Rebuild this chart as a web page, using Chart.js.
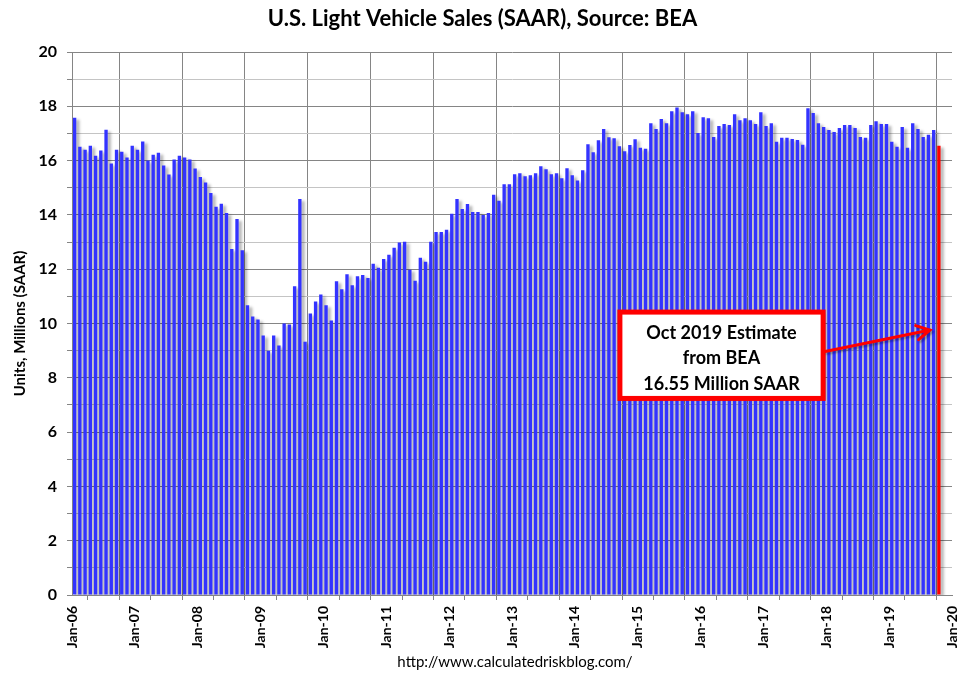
<!DOCTYPE html>
<html>
<head>
<meta charset="utf-8">
<title>U.S. Light Vehicle Sales (SAAR)</title>
<script src="https://cdn.jsdelivr.net/npm/chart.js@4.4.1/dist/chart.umd.min.js"></script>
<style>
  body { margin: 0; background: #fff; }
  #wrap { width: 969px; height: 680px; }
</style>
</head>
<body>
<div id="wrap"><canvas id="myChart" width="969" height="680"></canvas></div>
<script>
// Light vehicle sales, millions SAAR, monthly Jan 2006 .. Oct 2019 (last one = BEA estimate)
var sales = [
  17.58, 16.51, 16.40, 16.55, 16.18, 16.37, 17.14, 15.89, 16.40, 16.33, 16.11, 16.55, // 2006
  16.40, 16.70, 16.00, 16.22, 16.29, 15.82, 15.49, 16.04, 16.18, 16.11, 16.04, 15.71, // 2007
  15.40, 15.19, 14.81, 14.30, 14.41, 14.07, 12.74, 13.85, 12.70, 10.67, 10.26, 10.15, // 2008
  9.56, 9.00, 9.56, 9.19, 10.00, 9.96, 11.37, 14.59, 9.33, 10.37, 10.81, 11.07,       // 2009
  10.67, 10.11, 11.56, 11.26, 11.81, 11.41, 11.74, 11.79, 11.68, 12.20, 12.05, 12.38, // 2010
  12.53, 12.79, 12.98, 13.01, 11.98, 11.57, 12.42, 12.27, 13.01, 13.37, 13.37, 13.45, // 2011
  14.04, 14.59, 14.22, 14.40, 14.11, 14.11, 14.00, 14.07, 14.74, 14.52, 15.13, 15.13, // 2012
  15.50, 15.53, 15.42, 15.46, 15.53, 15.79, 15.68, 15.50, 15.53, 15.35, 15.72, 15.46, // 2013
  15.27, 15.64, 16.60, 16.31, 16.75, 17.16, 16.86, 16.82, 16.53, 16.34, 16.57, 16.79, // 2014
  16.47, 16.44, 17.38, 17.16, 17.53, 17.38, 17.82, 17.96, 17.78, 17.71, 17.82, 17.02, // 2015
  17.60, 17.56, 16.87, 17.27, 17.35, 17.31, 17.71, 17.49, 17.56, 17.49, 17.35, 17.78, // 2016
  17.27, 17.38, 16.69, 16.84, 16.84, 16.80, 16.76, 16.58, 17.93, 17.75, 17.38, 17.24, // 2017
  17.13, 17.05, 17.20, 17.31, 17.31, 17.20, 16.87, 16.84, 17.31, 17.45, 17.35, 17.35, // 2018
  16.69, 16.51, 17.24, 16.47, 17.38, 17.16, 16.87, 16.95, 17.13, 16.55                // 2019
];
var yearLabels = ['Jan-06', 'Jan-07', 'Jan-08', 'Jan-09', 'Jan-10', 'Jan-11', 'Jan-12',
                  'Jan-13', 'Jan-14', 'Jan-15', 'Jan-16', 'Jan-17', 'Jan-18', 'Jan-19', 'Jan-20'];
var titleText = 'U.S. Light Vehicle Sales (SAAR), Source: BEA';
var yTitle = 'Units, Millions (SAAR)';
var sourceText = 'http://www.calculatedriskblog.com/';
var noteLines = ['Oct 2019 Estimate', 'from BEA', '16.55 Million SAAR'];

var blue = '#3333ff';
var red = '#ff0000';
var fontName = 'Lato, "Liberation Sans", sans-serif';

Chart.defaults.color = '#000';
Chart.defaults.font.family = fontName;

var points = sales.map(function (v, i) { return { x: i + 0.5, y: v }; });
var colors = sales.map(function (v, i) { return i === sales.length - 1 ? red : blue; });

// soft grey drop shadow behind the bars
var barShadow = {
    id: 'barShadow',
    beforeDatasetsDraw: function (chart) {
        var ctx = chart.ctx;
        ctx.save();
        ctx.shadowColor = 'rgba(0,0,0,0.32)';
        ctx.shadowBlur = 3;
        ctx.shadowOffsetX = 3;
        ctx.shadowOffsetY = 2;
    },
    afterDatasetsDraw: function (chart) {
        chart.ctx.restore();
    }
};

// title, source line and the callout box with its arrow
var extras = {
    id: 'extras',
    afterDraw: function (chart) {
        var ctx = chart.ctx;
        var area = chart.chartArea;
        var xs = chart.scales.x, ys = chart.scales.y;

        ctx.save();
        ctx.fillStyle = '#000';
        ctx.textAlign = 'center';
        ctx.textBaseline = 'middle';
        ctx.font = 'bold 22px ' + fontName;
        ctx.fillText(titleText, chart.width / 2 - 2, 19);

        ctx.font = '15px ' + fontName;
        ctx.fillText(sourceText, (area.left + area.right) / 2 + 3, 662);

        // callout box
        var bx1 = xs.getPixelForValue(104.6), bx2 = xs.getPixelForValue(143.4);
        var by1 = ys.getPixelForValue(10.42), by2 = ys.getPixelForValue(7.24);
        ctx.shadowColor = 'rgba(0,0,0,0.25)';
        ctx.shadowBlur = 3;
        ctx.shadowOffsetX = 2;
        ctx.shadowOffsetY = 2;
        ctx.fillStyle = '#fff';
        ctx.fillRect(bx1, by1, bx2 - bx1, by2 - by1);
        ctx.shadowColor = 'transparent';
        ctx.strokeStyle = red;
        ctx.lineWidth = 5;
        ctx.strokeRect(bx1, by1, bx2 - bx1, by2 - by1);

        ctx.fillStyle = '#000';
        ctx.font = 'bold 18px ' + fontName;
        var cx = (bx1 + bx2) / 2;
        ctx.fillText(noteLines[0], cx, by1 + 21);
        ctx.fillText(noteLines[1], cx, by1 + 46);
        ctx.fillText(noteLines[2], cx, by1 + 72);

        // arrow to the last bar
        var ax1 = bx2 + 2, ay1 = ys.getPixelForValue(8.97);
        var ax2 = xs.getPixelForValue(163.8), ay2 = ys.getPixelForValue(9.76);
        var ang = Math.atan2(ay2 - ay1, ax2 - ax1);
        ctx.shadowColor = 'rgba(0,0,0,0.3)';
        ctx.shadowBlur = 2;
        ctx.shadowOffsetX = 2;
        ctx.shadowOffsetY = 2;
        ctx.strokeStyle = red;
        ctx.lineWidth = 3;
        ctx.lineCap = 'round';
        ctx.beginPath();
        ctx.moveTo(ax1, ay1);
        ctx.lineTo(ax2, ay2);
        ctx.moveTo(ax2 - 15 * Math.cos(ang - 0.5), ay2 - 15 * Math.sin(ang - 0.5));
        ctx.lineTo(ax2, ay2);
        ctx.lineTo(ax2 - 15 * Math.cos(ang + 0.5), ay2 - 15 * Math.sin(ang + 0.5));
        ctx.stroke();
        ctx.restore();
    }
};

var config = {
    type: 'bar',
    data: {
        datasets: [{
            label: 'Light vehicle sales',
            data: points,
            backgroundColor: colors,
            borderWidth: 0,
            barPercentage: 0.64,
            categoryPercentage: 1
        }]
    },
    options: {
        responsive: false,
        animation: false,
        layout: { padding: { left: 0, right: 17, top: 52, bottom: 0 } },
        plugins: {
            legend: { display: false },
            tooltip: { enabled: false }
        },
        scales: {
            x: {
                type: 'linear',
                min: 0,
                max: 168,
                offset: false,
                afterFit: function (scale) {
                    scale.height = 85;
                    // rotated labels should not shrink the plot sideways
                    scale.paddingLeft = 0;
                    scale.paddingRight = 0;
                },
                ticks: {
                    stepSize: 6,
                    autoSkip: false,
                    maxRotation: 90,
                    minRotation: 90,
                    padding: 6,
                    font: { size: 14, weight: 'bold' },
                    callback: function (v) {
                        return v % 12 === 0 ? yearLabels[v / 12] : '';
                    }
                },
                grid: {
                    color: function (c) {
                        return c.tick && c.tick.value % 12 === 0 ? '#858585' : 'rgba(0,0,0,0)';
                    },
                    tickColor: '#858585',
                    tickLength: 5
                },
                border: { color: '#858585' }
            },
            y: {
                min: 0,
                max: 20,
                afterFit: function (scale) { scale.width = 72; },
                ticks: {
                    stepSize: 1,
                    padding: 10,
                    font: { size: 16, weight: 'bold' },
                    callback: function (v) { return v % 2 === 0 ? v : ''; }
                },
                grid: {
                    color: function (c) {
                        return c.tick && c.tick.value % 2 === 0 ? '#858585' : '#c4c4c4';
                    },
                    tickColor: '#858585',
                    tickLength: 5
                },
                border: { color: '#858585' },
                title: {
                    display: true,
                    text: yTitle,
                    font: { size: 15, weight: 'bold' },
                    padding: { top: 11, bottom: 0 }
                }
            }
        }
    },
    plugins: [barShadow, extras]
};

var myChart = new Chart(document.getElementById('myChart'), config);
</script>
</body>
</html>
